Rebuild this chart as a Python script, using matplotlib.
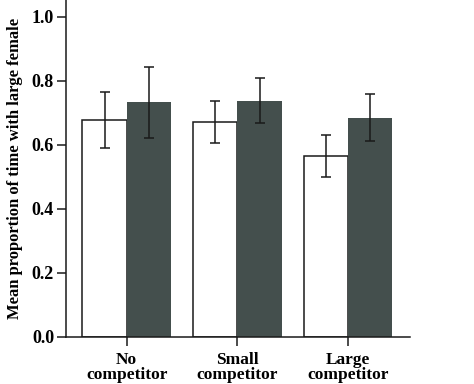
import numpy as np
import matplotlib.pyplot as plt

plt.rcParams['font.family'] = ['Liberation Serif', 'DejaVu Serif']
plt.rcParams['font.weight'] = 'bold'

# data
categories = ["No\ncompetitor", "Small\ncompetitor", "Large\ncompetitor"]
white_mean = [0.677, 0.672, 0.565]
white_err = [0.087, 0.065, 0.066]
dark_mean = [0.733, 0.738, 0.685]
dark_err = [0.112, 0.070, 0.073]

fig = plt.figure(figsize=(4.74, 3.84), dpi=100)
ax = fig.add_axes([0.139, 0.1224, 0.726, 0.8776])

x = np.arange(len(categories))
w = 0.4
ekw = dict(elinewidth=1.1, capthick=1.1, ecolor='#1a1a1a')

ax.bar(x - w / 2, white_mean, w, color='white', edgecolor='#1a1a1a',
       linewidth=1.1, yerr=white_err, capsize=3.8, error_kw=ekw, zorder=2)
ax.bar(x + w / 2, dark_mean, w, color='#444f4d', edgecolor='none',
       yerr=dark_err, capsize=3.8, error_kw=ekw, zorder=2)

ax.set_xlim(-0.55, 2.56)
ax.set_ylim(0, 1.053)
ax.set_xticks(x)
ax.set_xticklabels(categories, fontsize=12.5, fontweight='bold', linespacing=0.95)
ax.set_yticks([0.0, 0.2, 0.4, 0.6, 0.8, 1.0])
ax.set_yticklabels(["0.0", "0.2", "0.4", "0.6", "0.8", "1.0"],
                   fontsize=13, fontweight='bold')
ax.set_ylabel("Mean proportion of time with large female",
              fontsize=12, fontweight='bold', labelpad=6)

for s in ['top', 'right']:
    ax.spines[s].set_visible(False)
for s in ['left', 'bottom']:
    ax.spines[s].set_linewidth(1.1)
    ax.spines[s].set_color('#1a1a1a')
ax.tick_params(axis='both', direction='out', length=6.5, width=1.1,
               color='#1a1a1a', pad=2)
ax.tick_params(axis='x', pad=4)

fig.savefig("out.png", dpi=100)
